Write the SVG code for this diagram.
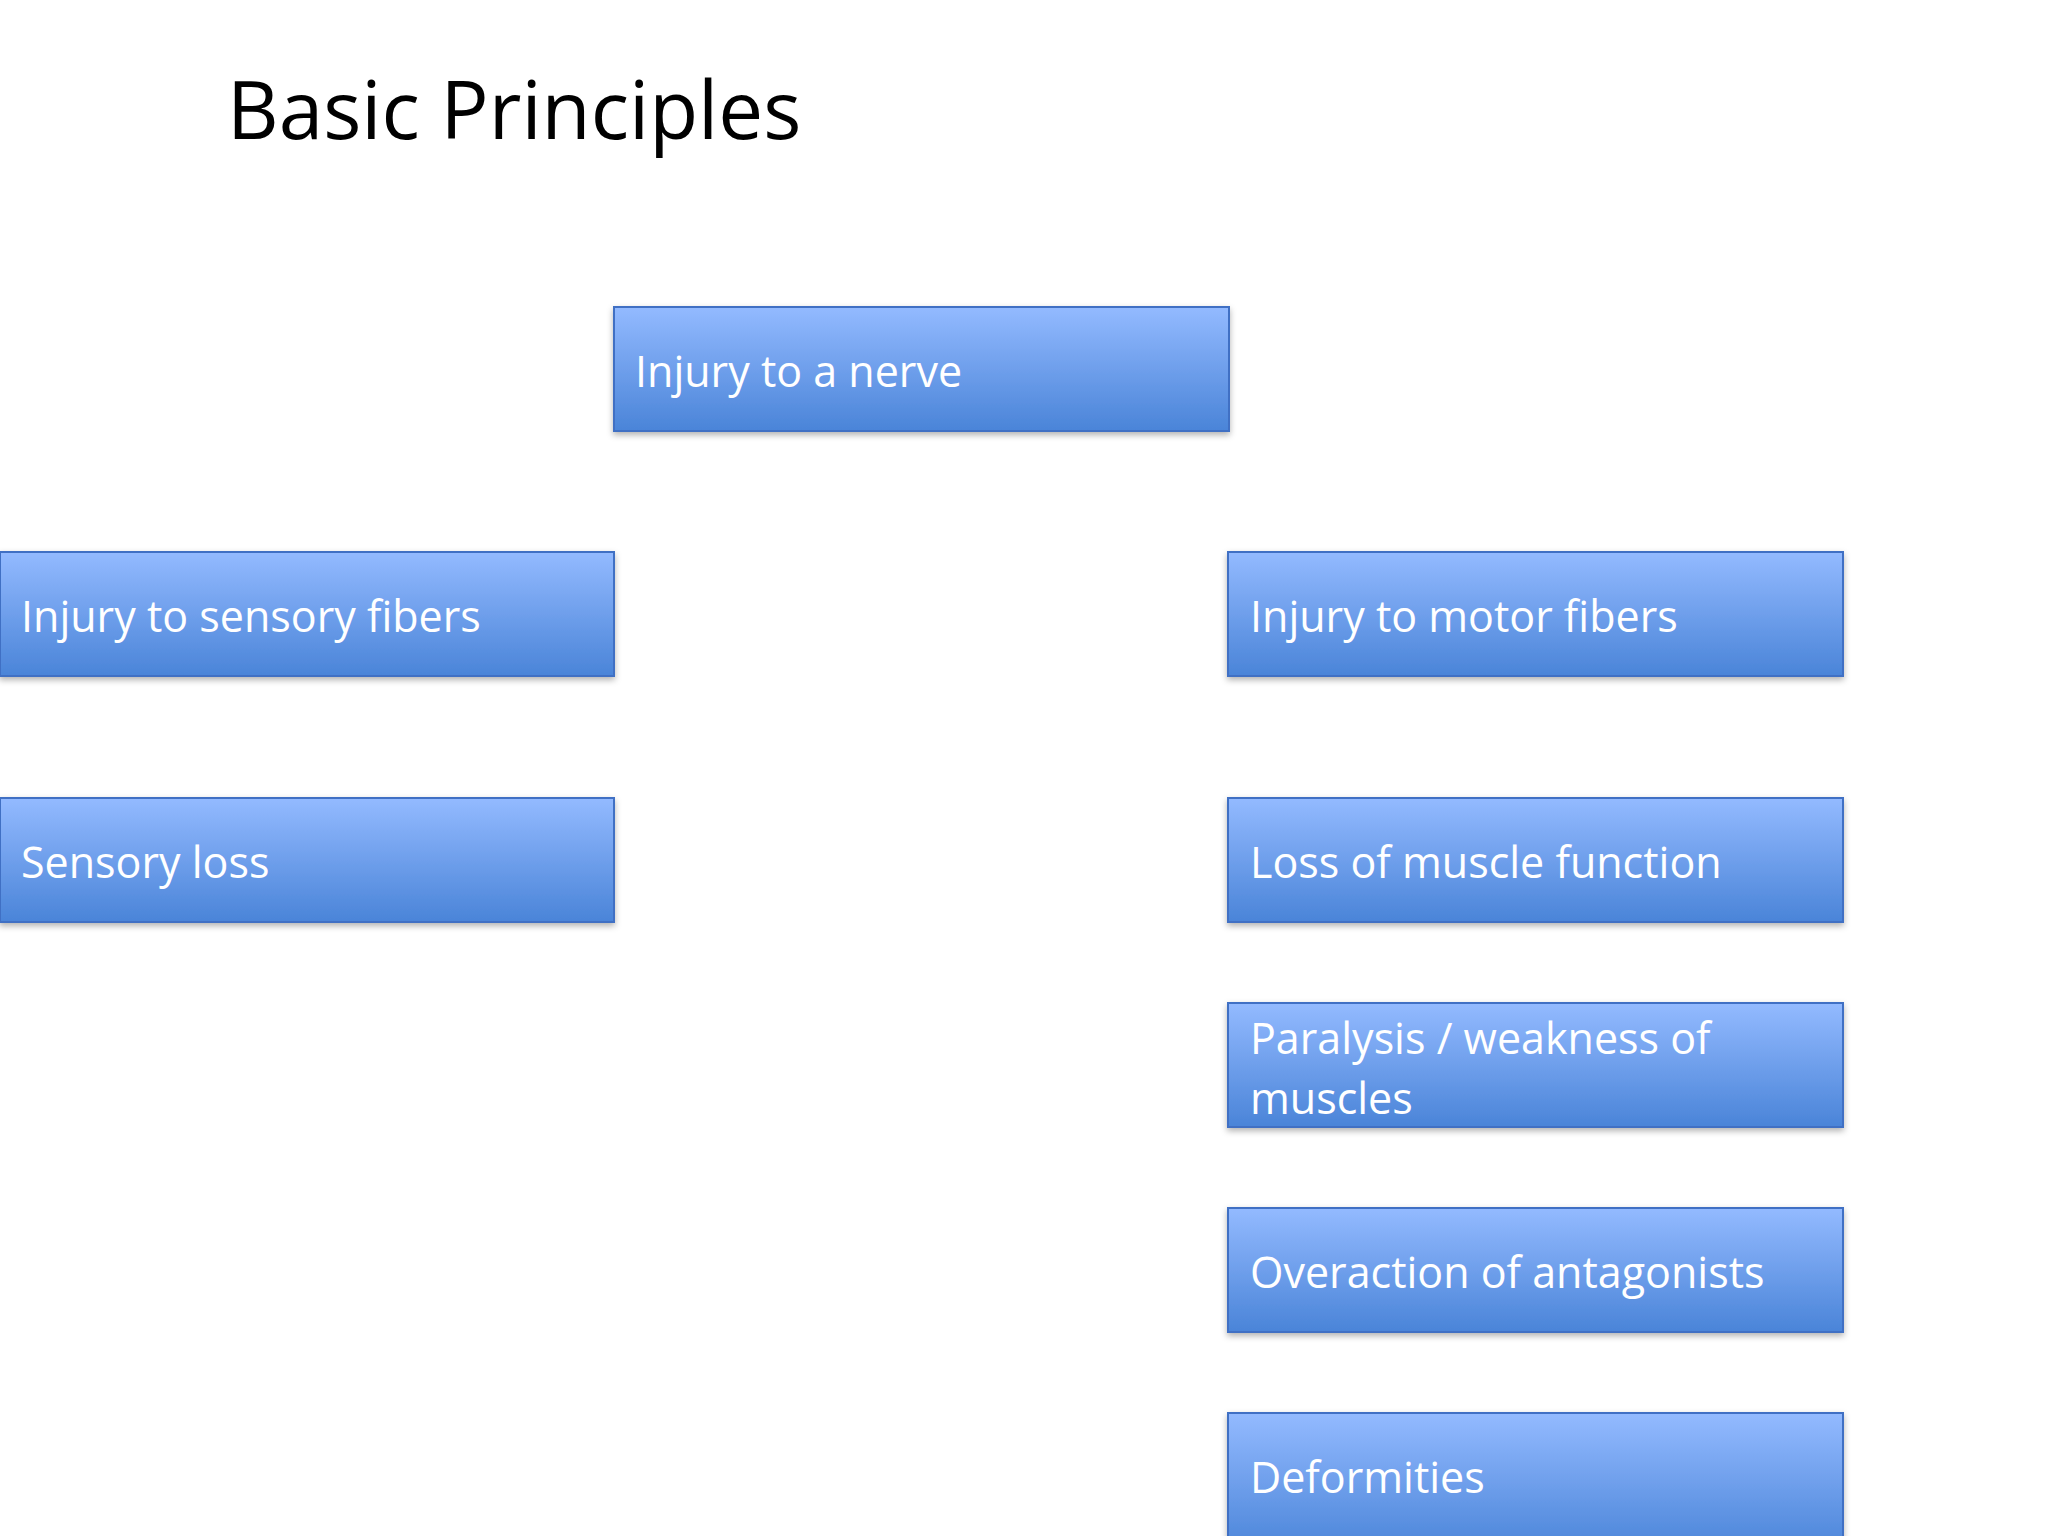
<svg xmlns="http://www.w3.org/2000/svg" width="2048" height="1536" viewBox="0 0 2048 1536">
<defs>
<linearGradient id="g" x1="0" y1="0" x2="0" y2="1">
<stop offset="0" stop-color="#93baff"/>
<stop offset="1" stop-color="#4a84d8"/>
</linearGradient>
<filter id="sh" x="-5%" y="-10%" width="110%" height="130%">
<feDropShadow dx="0" dy="3" stdDeviation="3" flood-color="#000" flood-opacity="0.3"/>
</filter>
</defs>
<style>
.box{fill:url(#g);stroke:#3f6fc4;stroke-width:2;filter:url(#sh)}
.t{font-family:"Open Sans","Liberation Sans",sans-serif;font-size:43px;fill:#ffffff}
.title{font-family:"Open Sans","Liberation Sans",sans-serif;font-size:80px;fill:#000}
</style>
<rect width="2048" height="1536" fill="#fff"/>
<text class="title" x="227" y="139">Basic Principles</text>
<g id="connectors"></g>
<g id="n1"><rect class="box" x="614" y="307" width="615" height="124"/><text class="t" x="635" y="387">Injury to a nerve</text></g>
<g id="n2"><rect class="box" x="0" y="552" width="614" height="124"/><text class="t" x="21" y="632">Injury to sensory fibers</text></g>
<g id="n3"><rect class="box" x="1228" y="552" width="615" height="124"/><text class="t" x="1250" y="632">Injury to motor fibers</text></g>
<g id="n4"><rect class="box" x="0" y="798" width="614" height="124"/><text class="t" x="21" y="878">Sensory loss</text></g>
<g id="n5"><rect class="box" x="1228" y="798" width="615" height="124"/><text class="t" x="1250" y="878">Loss of muscle function</text></g>
<g id="n6"><rect class="box" x="1228" y="1003" width="615" height="124"/><text class="t" x="1250" y="1054">Paralysis / weakness of</text><text class="t" x="1250" y="1114">muscles</text></g>
<g id="n7"><rect class="box" x="1228" y="1208" width="615" height="124"/><text class="t" x="1250" y="1288">Overaction of antagonists</text></g>
<g id="n8"><rect class="box" x="1228" y="1413" width="615" height="140"/><text class="t" x="1250" y="1493">Deformities</text></g>
</svg>
